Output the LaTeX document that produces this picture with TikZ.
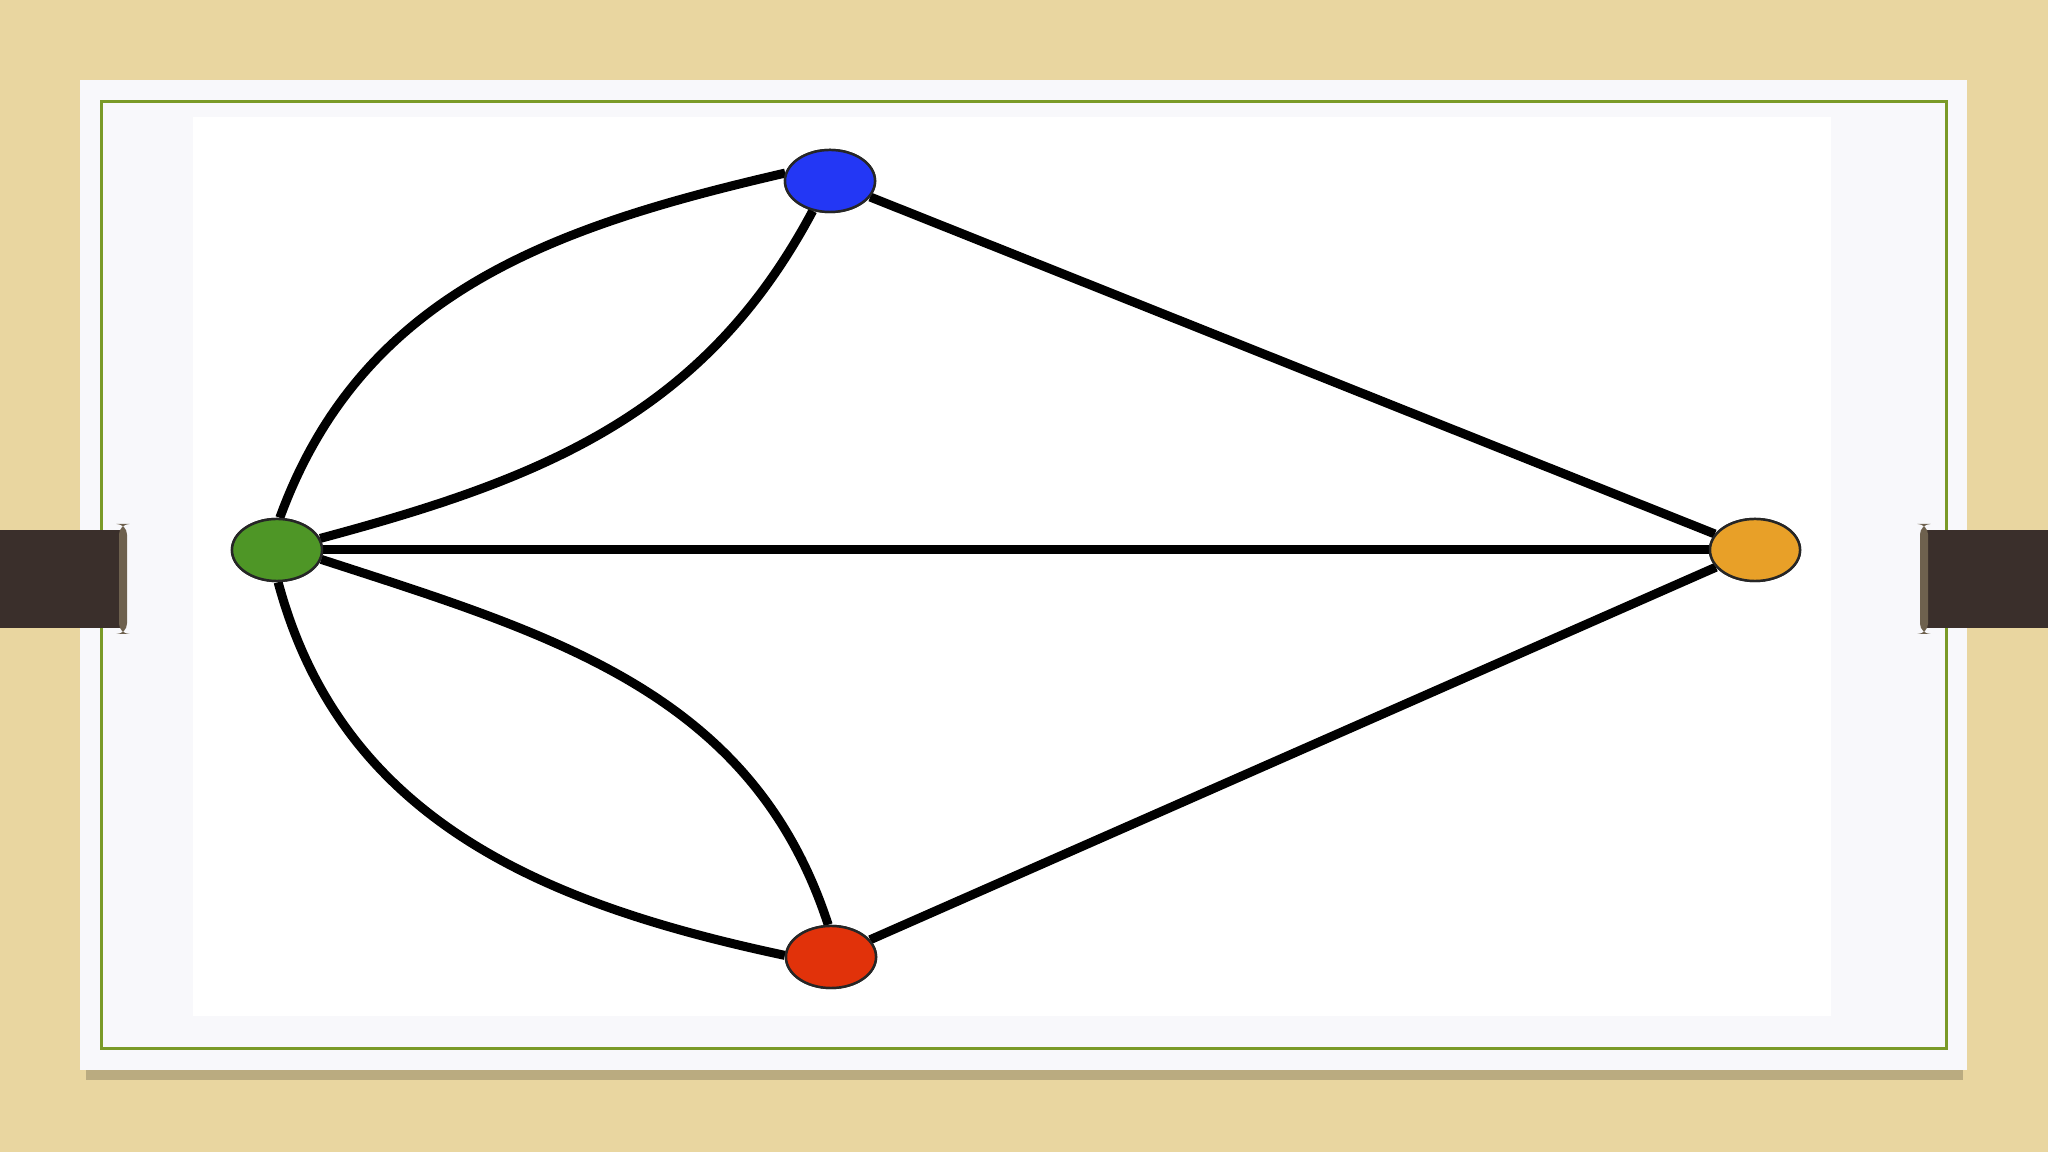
\documentclass[tikz,border=0pt]{standalone}
\usetikzlibrary{shapes.geometric}
\definecolor{paper}{RGB}{233,214,160}
\definecolor{card}{RGB}{248,248,251}
\definecolor{frame}{RGB}{122,154,40}
\definecolor{tab}{RGB}{58,47,43}
\definecolor{vblue}{RGB}{35,55,245}
\definecolor{vgreen}{RGB}{78,150,38}
\definecolor{vorange}{RGB}{232,160,40}
\definecolor{vred}{RGB}{225,50,10}
\begin{document}
\begin{tikzpicture}[x=0.01cm, y=0.01cm,
  vertex/.style={ellipse, draw=black!85, line width=0.7pt, minimum width=0.9cm, minimum height=0.62cm, inner sep=0pt},
  edge/.style={line width=0.09cm, black}]
% background and card
\fill[paper] (0,0) rectangle (2048,1152);
\useasboundingbox (0,0) rectangle (2048,1152);
\fill[paper!80!black] (86,72) rectangle (1963,84);
\fill[card] (80,82) rectangle (1967,1072);
\fill[white] (193,136) rectangle (1831,1035);
\draw[frame, line width=0.03cm] (101,103) rectangle (1946,1050);
\fill[tab] (0,524) rectangle (125,622);
\fill[tab] (1922,524) rectangle (2048,622);
\fill[tab!70!paper, rounded corners=3] (119,518) rectangle (127,628);
\fill[tab!70!paper, rounded corners=3] (1920,518) rectangle (1928,628);
% vertices
\node[vertex, fill=vblue] (b) at (830,971) {};
\node[vertex, fill=vgreen] (g) at (277,602) {};
\node[vertex, fill=vorange] (o) at (1755,602) {};
\node[vertex, fill=vred] (r) at (831,195) {};
% edges
\draw[edge] (g.85) to[out=70, in=193] (b.170);
\draw[edge] (g.15) to[out=15, in=242] (b.240);
\draw[edge] (g) -- (o);
\draw[edge] (g.-88) to[out=-75, in=168] (r.178);
\draw[edge] (g.-12) to[out=-18, in=108] (r.95);
\draw[edge] (b) -- (o);
\draw[edge] (r) -- (o);
% redraw vertices on top
\node[vertex, fill=vblue] at (b) {};
\node[vertex, fill=vgreen] at (g) {};
\node[vertex, fill=vorange] at (o) {};
\node[vertex, fill=vred] at (r) {};
\end{tikzpicture}
\end{document}
